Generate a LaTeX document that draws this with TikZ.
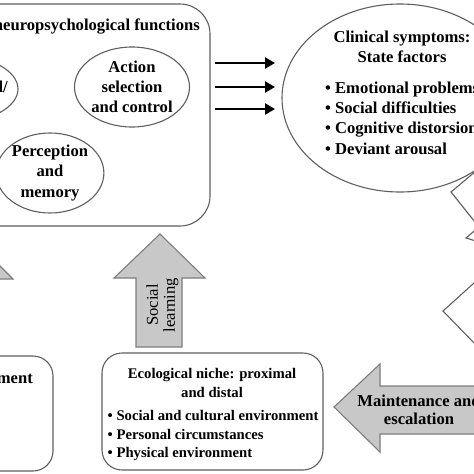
\documentclass[tikz,border=0pt]{standalone}
\usepackage{fontspec}
\setmainfont{Liberation Serif}
\usetikzlibrary{shapes.geometric,arrows.meta}
\definecolor{linegray}{RGB}{95,95,95}
\definecolor{arrowgray}{RGB}{200,200,200}
\definecolor{arrowline}{RGB}{125,125,125}

\begin{document}
\begin{tikzpicture}[x=1pt,y=-1pt,
    bold text/.style={font=\bfseries\fontsize{16.6}{20.3}\selectfont, align=center, inner sep=0pt},
    box text/.style={font=\bfseries\fontsize{14.7}{18.5}\selectfont, align=left, inner sep=0pt},
    func ellipse/.style={ellipse, draw=linegray, line width=1.1pt, fill=white, inner sep=0pt},
    round box/.style={draw=linegray, line width=1.1pt, fill=white, rounded corners=#1},
    grey arrow/.style={draw=arrowline, fill=arrowgray, line width=1.1pt},
    black arrow/.style={line width=2.6pt, -{Triangle[length=10pt,width=11pt]}},
    white arrow/.style={draw=linegray, fill=white, line width=1.1pt}]

    \clip (0,0) rectangle (474,474);
    \fill[white] (0,0) rectangle (474,474);

    % neuropsychological functions
    \node [round box=30pt, minimum width=270pt, minimum height=222pt] (neuro) at (75,115) {};
    \node [bold text, anchor=east] (neurotitle) at (200,26) {neuropsychological functions};
    \node [func ellipse, minimum width=130pt, minimum height=68pt] (emot) at (-47,89) {};
    \node [bold text, anchor=east] (emottext) at (8,87) {l/};
    \node [func ellipse, bold text, minimum width=115pt, minimum height=80pt] (action) at (132,87) {Action\\selection\\and control};
    \node [func ellipse, bold text, minimum width=106pt, minimum height=80pt] (percep) at (50,173) {Perception\\and\\memory};

    % arrows to the symptoms
    \foreach \y [count=\i] in {63,87,109} {
        \coordinate (from\i) at (215,\y);
        \coordinate (to\i) at (275,\y);
        \draw [black arrow] (from\i) -- (to\i);
    }

    % clinical symptoms
    \node [func ellipse, minimum width=236pt, minimum height=188pt] (clinical) at (400,98) {};
    \node [bold text] (clintitle) at (402,47) {Clinical symptoms:\\State factors};
    \node [bold text, align=left, anchor=west] (clinlist) at (325,118) {• Emotional problems\\• Social difficulties\\• Cognitive distorsions\\• Deviant arousal};

    % white arrows on the right
    \draw [white arrow] (495,155) -- (451,192) -- (479,227) -- (466,238) -- (545,262) -- cycle;
    \draw [white arrow] (505,255) -- (443,311) -- (510,380) -- (560,320) -- cycle;

    % grey arrows
    \draw [grey arrow] (160,234) -- (205,278) -- (182,278) -- (182,347) -- (136,347) -- (136,278) -- (114,278) -- cycle;
    \node [font=\fontsize{16.6}{17}\selectfont, rotate=90, align=center, inner sep=0pt] (social) at (162.5,305) {Social\\learning};
    \draw [grey arrow] (-32,234) -- (13,279) -- (-9,279) -- (-9,347) -- (-55,347) -- (-55,279) -- (-77,279) -- cycle;
    \draw [grey arrow] (334,407) -- (380,364) -- (380,386) -- (490,386) -- (490,434) -- (380,434) -- (380,452) -- cycle;
    \node [bold text, font=\bfseries\fontsize{16.6}{18.5}\selectfont] (maint) at (419,410) {Maintenance and\\escalation};

    % bottom boxes
    \node [round box=20pt, minimum width=253pt, minimum height=115pt] (develop) at (-73.5,413.5) {};
    \node [bold text, anchor=east] (developtext) at (33,379) {ment};
    \node [round box=20pt, minimum width=221pt, minimum height=117pt] (niche) at (212.5,411.5) {};
    \node [box text, align=center] (nichetitle) at (212,383) {Ecological niche: proximal\\and distal};
    \node [box text, anchor=west] (nichelist) at (107.5,435.5) {• Social and cultural environment\\• Personal circumstances\\• Physical environment};
\end{tikzpicture}
\end{document}
